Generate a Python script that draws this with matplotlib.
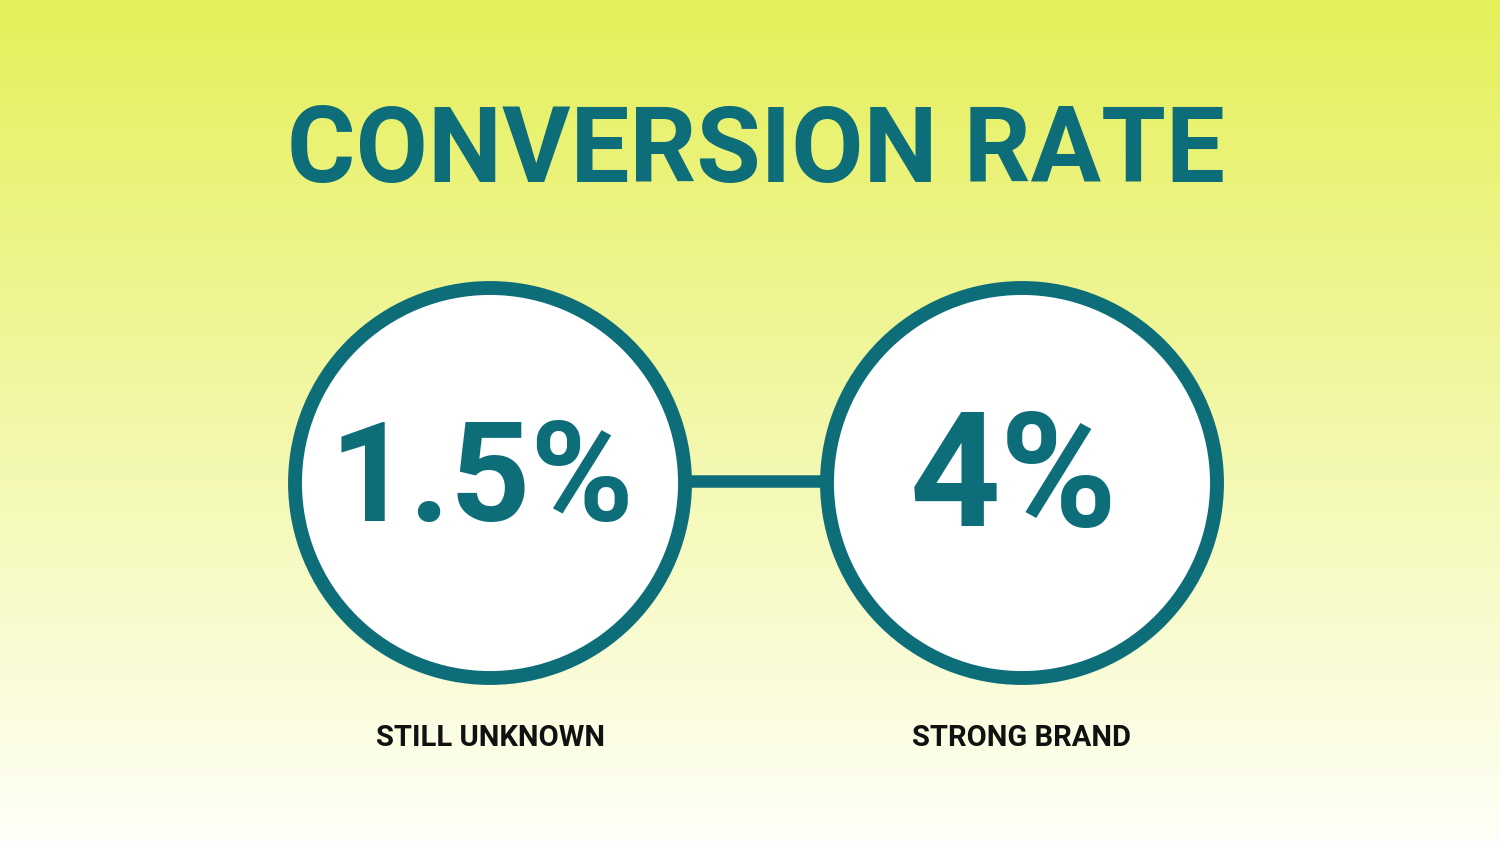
import matplotlib
matplotlib.use("Agg")
import matplotlib.pyplot as plt
import numpy as np
from matplotlib.patches import Circle

title = "CONVERSION RATE"
labels = ["STILL UNKNOWN", "STRONG BRAND"]
values = ["1.5%", "4%"]
centers_x = [490, 1022]

teal = "#0d6e7a"
fam = ["Liberation Sans Narrow", "Roboto", "DejaVu Sans"]
fig = plt.figure(figsize=(15, 8.41), dpi=100)
ax = fig.add_axes([0, 0, 1, 1])
ax.set_xlim(0, 1500); ax.set_ylim(841, 0); ax.axis("off")

top = np.array([0.90, 0.94, 0.35]); bot = np.array([1.0, 1.0, 0.97])
t = np.linspace(0, 1, 256)[:, None]
grad = (top * (1 - t) + bot * t)[:, None, :].repeat(2, axis=1)
ax.imshow(grad, extent=[0, 1500, 841, 0], aspect="auto", zorder=0)

renderer = fig.canvas.get_renderer()
def fit_text(x, y, s, target_w, cap_px, color):
    fs_h = cap_px / 0.72 * 0.72  # px -> pt (dpi 100): px*0.72
    txt = ax.text(x, y, s, ha="center", va="center", fontsize=fs_h, fontweight="bold",
                  family=fam, color=color, zorder=3)
    w = txt.get_window_extent(renderer).width
    if w > target_w:
        txt.set_fontsize(fs_h * target_w / w)
    return txt

ax.plot([690, 822], [481, 481], color=teal, lw=9, zorder=1, solid_capstyle="butt")
num_w = [305, 208]
lab_w = [229, 219]
for cx, v, lab, nw, lw_ in zip(centers_x, values, labels, num_w, lab_w):
    ax.add_patch(Circle((cx, 483), 195, facecolor="white", edgecolor=teal, lw=10, zorder=2))
    fit_text(cx - 8, 482, v, nw, 160, teal)
    fit_text(cx, 738, lab, lw_, 35, "#111111")

fit_text(756, 153, title, 938, 130, teal)

fig.savefig("out.png", dpi=100)
